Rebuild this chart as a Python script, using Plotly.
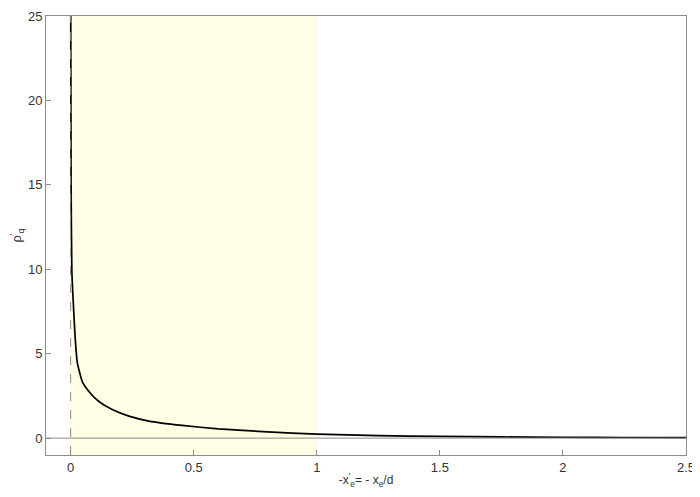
import plotly.graph_objects as go

# values
xe = [0.0005, 0.002, 0.005, 0.011, 0.018, 0.027, 0.048, 0.075, 0.115, 0.169, 0.237,
      0.318, 0.453, 0.6, 0.8, 1.0, 1.25, 1.5, 1.75, 2.0, 2.25, 2.5]
rho_q = [25, 15, 9.9, 7.98, 6.05, 4.49, 3.33, 2.75, 2.17, 1.69, 1.30,
         1.01, 0.75, 0.55, 0.37, 0.24, 0.15, 0.1, 0.07, 0.05, 0.035, 0.025]
region = [0, 1]
x_ticks = [0, 0.5, 1, 1.5, 2, 2.5]
x_tick_text = ["0", "0.5", "1", "1.5", "2", "2.5"]
y_ticks = [0, 5, 10, 15, 20, 25]

font = "Liberation Sans, Arial"

fig = go.Figure()

# shaded region
fig.add_vrect(x0=region[0], x1=region[1], fillcolor="#fffde3", line_width=0, layer="below")
fig.add_hline(y=0, line_color="#8c8c8c", line_width=1)
fig.add_vline(x=0, line_color="#8c8c8c", line_width=1, line_dash="dash")

fig.add_trace(go.Scatter(x=xe, y=rho_q, mode="lines",
                         line=dict(color="black", width=1.7, shape="spline", smoothing=0.5),
                         showlegend=False))

axis_style = dict(showgrid=False, zeroline=False, showline=True, linecolor="#8c8c8c", linewidth=1,
                  mirror=True, ticks="inside", ticklen=5, tickcolor="#8c8c8c",
                  ticklabeloverflow="allow", automargin=False,
                  tickfont=dict(family=font, size=13, color="#333"))

fig.update_xaxes(range=[-0.1, 2.5], tickvals=x_ticks, ticktext=x_tick_text,
                 title=dict(text="-x<sup>'</sup><sub>e</sub>= - x<sub>e</sub>/d", standoff=3,
                            font=dict(family=font, size=12, color="#333")),
                 **axis_style)
fig.update_yaxes(range=[-1, 25], tickvals=y_ticks,
                 title=dict(text="ρ<sup>'</sup><sub>q</sub>", standoff=6,
                            font=dict(family=font, size=13, color="#333")),
                 **axis_style)

# page body keeps an 8px margin, so the figure is a bit smaller than the window
fig.update_layout(width=692, height=481, margin=dict(l=38, r=14, t=8, b=34),
                  plot_bgcolor="white", paper_bgcolor="white")

fig.write_html("out.html")
